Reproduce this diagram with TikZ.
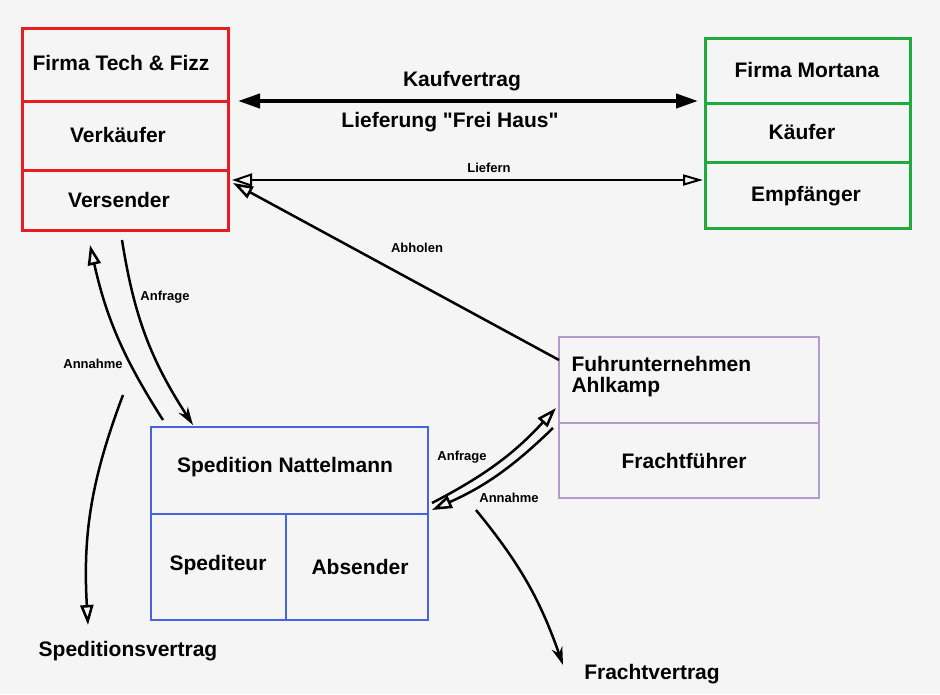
\documentclass[tikz,border=0pt]{standalone}
\usepackage{fontspec}
\setmainfont{Liberation Sans}[Ligatures=TeXOff]
\usetikzlibrary{arrows.meta}
\definecolor{cred}{RGB}{230,30,35}
\definecolor{cgreen}{RGB}{30,170,60}
\definecolor{cpurple}{RGB}{180,155,205}
\definecolor{cblue}{RGB}{70,100,225}
\begin{document}
\begin{tikzpicture}[x=1pt,y=-1pt,
  big/.style={font=\fontsize{21}{25}\selectfont\bfseries},
  lbl/.style={font=\fontsize{13}{15}\selectfont\bfseries},
  tiny/.style={font=\fontsize{13}{15}\selectfont\bfseries},
  conn/.style={line width=2.5pt,-{Triangle[open,length=20pt,width=13pt]}},
  connf/.style={line width=2.5pt,-{Stealth[length=18pt,width=11pt]}}]
\fill[white!96!black] (0,0) rectangle (940,694);
\useasboundingbox (0,0) rectangle (940,694);
% red
\draw[cred,line width=3pt] (22,28) rectangle (228,230) (22,101)--(228,101) (22,170)--(228,170);
\node[big] (tech) at (121,63) {Firma Tech \& Fizz};
\node[big] (verk) at (118,135) {Verkäufer};
\node[big] (vers) at (119,200) {Versender};
% green
\draw[cgreen,line width=3pt] (705,38) rectangle (910,228) (705,103)--(910,103) (705,162)--(910,162);
\node[big] (mort) at (807,70) {Firma Mortana};
\node[big] (kauf) at (802,132) {Käufer};
\node[big] (empf) at (806,196) {Empfänger};
% purple
\draw[cpurple,line width=2.5pt] (559,337) rectangle (819,498) (559,423)--(819,423);
\node[big,align=left,anchor=west] (fuhr) at (568,377) {Fuhrunternehmen\\[-4pt]Ahlkamp};
\node[big] (fracht) at (684,461) {Frachtführer};
% blue
\draw[cblue,line width=2.5pt] (151,427) rectangle (428,620) (151,514)--(428,514) (286,514)--(286,620);
\node[big] (sped) at (285,467) {Spedition Nattelmann};
\node[big] (spedr) at (218,565) {Spediteur};
\node[big] (abs) at (360,567) {Absender};
% top arrows
\coordinate (k1) at (238,101); \coordinate (k2) at (698,101);
\draw[line width=4pt,{Triangle[length=22pt,width=14pt]}-{Triangle[length=22pt,width=14pt]}] (k1) -- (k2);
\node[big] (kv) at (462,81) {Kaufvertrag};
\node[big] (lfh) at (450,122) {Lieferung "Frei Haus"};
\coordinate (l1) at (232,180); \coordinate (l2) at (703,180);
\draw[line width=2pt,{Triangle[open,length=20pt,width=13pt]}-{Triangle[open,length=20pt,width=11pt]}] (l1) -- (l2);
\node[tiny] (lief) at (489,168) {Liefern};
\coordinate (ab1) at (559,360); \coordinate (ab2) at (233,183);
\draw[conn] (ab1) -- (ab2);
\node[tiny] (abh) at (417,248) {Abholen};
% left curves
\coordinate (a1) at (122,240); \coordinate (a2) at (193,425);
\draw[connf] (a1) to[bend right=12] (a2);
\node[lbl] (anf1) at (165,297) {Anfrage};
\coordinate (n1) at (163,420); \coordinate (n2) at (90,245);
\draw[conn] (n1) to[bend left=10] (n2);
\node[lbl] (ann1) at (93,364) {Annahme};
\coordinate (s1) at (123,395); \coordinate (s2) at (88,625);
\draw[conn] (s1) to[bend right=12] (s2);
\node[big] (sv) at (128,651) {Speditionsvertrag};
% right curves
\coordinate (r1) at (432,503); \coordinate (r2) at (556,408);
\draw[conn] (r1) to[bend right=10] (r2);
\node[lbl] (anf2) at (462,457) {Anfrage};
\coordinate (m1) at (553,428); \coordinate (m2) at (432,510);
\draw[conn] (m1) to[bend left=10] (m2);
\node[lbl] (ann2) at (509,498) {Annahme};
\coordinate (f1) at (476,510); \coordinate (f2) at (563,665);
\draw[connf] (f1) to[bend left=10] (f2);
\node[big] (fv) at (652,674) {Frachtvertrag};
\end{tikzpicture}
\end{document}
